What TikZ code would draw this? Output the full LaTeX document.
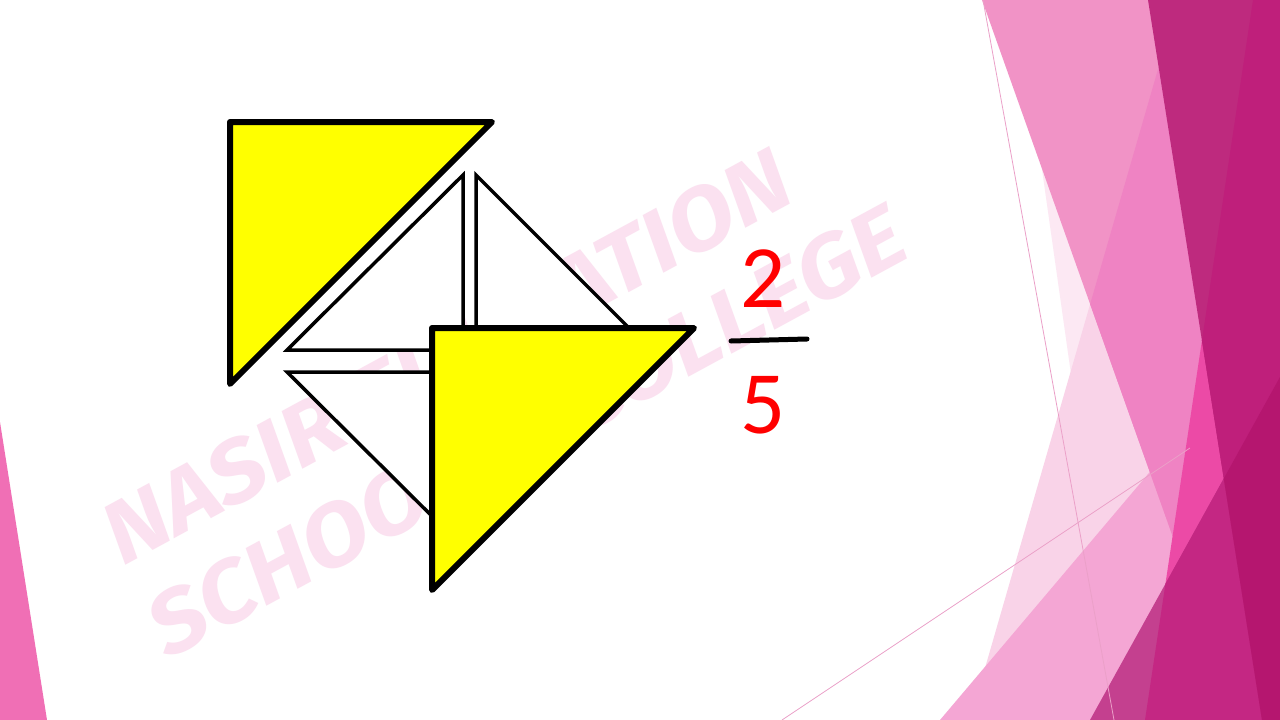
\documentclass[tikz,border=0pt]{standalone}
\usepackage{fontspec}
\usepackage{graphicx}
\newfontfamily\digitfont{Carlito}
\newfontfamily\wmfont{Fira Sans}
\definecolor{wmpink}{RGB}{251,225,240}
\definecolor{leftpink}{RGB}{240,111,181}
\definecolor{bandpink}{HTML}{FCE8F3}
\definecolor{lightpink}{HTML}{F9D3E8}
\definecolor{cpink}{HTML}{F4A6D4}
\definecolor{apink}{HTML}{F193C6}
\definecolor{bpink}{HTML}{EF83C3}
\definecolor{hotpink}{HTML}{EC4AA6}
\definecolor{darka}{HTML}{C4408F}
\definecolor{darkb}{HTML}{C42783}
\definecolor{darkc}{HTML}{BE2A7E}
\definecolor{darkd}{HTML}{BF1F7B}
\definecolor{darke}{HTML}{B5166F}
\definecolor{thinpink}{HTML}{EBA0C8}
\definecolor{triyellow}{HTML}{FFFF00}
\definecolor{fracred}{HTML}{FF0000}
\begin{document}
\begin{tikzpicture}[x=1pt,y=-1pt,
  yellowtri/.style={fill=triyellow,draw=black,line width=6pt,line join=round},
  whitetri/.style={fill=white,draw=black,line width=3.5pt,line join=miter},
  thinline/.style={draw=thinpink,line width=0.8pt},
  wm/.style={text=wmpink,rotate=28.5,anchor=base west,inner sep=0pt},
  digit/.style={text=fracred,font=\digitfont\fontsize{89}{89}\selectfont,inner sep=0pt},
  fracbar/.style={draw=black,line width=5pt,line cap=round}]
\useasboundingbox (0,0) rectangle (1280,720);
\fill[white] (0,0) rectangle (1280,720);
% ---- background facets ----
\fill[leftpink] (0,422) -- (47,720) -- (0,720) -- cycle;
\fill[bandpink] (1018,0) -- (1280,0) -- (1280,720) -- (1120,720) -- cycle;
\fill[lightpink] (1178,0) -- (1280,0) -- (1280,720) -- (970,720) -- cycle;
\fill[cpink] (940,720) -- (1280,318) -- (1280,720) -- cycle;
\fill[apink] (982,0) -- (1280,0) -- (1280,720) -- (1238,720) -- cycle;
\begin{scope}
  \clip (982,0) -- (1280,0) -- (1280,720) -- (1238,720) -- cycle;
  \fill[bpink] (1178,0) -- (1280,0) -- (1280,720) -- (970,720) -- cycle;
\end{scope}
\fill[hotpink] (1253,0) -- (1280,0) -- (1280,720) -- (1145,720) -- cycle;
\fill[darka] (1090,720) -- (1280,377) -- (1280,720) -- cycle;
\begin{scope}
  \clip (1090,720) -- (1280,377) -- (1280,720) -- cycle;
  \fill[darkb] (1253,0) -- (1280,0) -- (1280,720) -- (1145,720) -- cycle;
\end{scope}
\fill[darkc] (1148,0) -- (1280,0) -- (1280,720) -- (1262,720) -- cycle;
\begin{scope}
  \clip (1148,0) -- (1280,0) -- (1280,720) -- (1262,720) -- cycle;
  \fill[darkd] (1253,0) -- (1280,0) -- (1280,720) -- (1145,720) -- cycle;
  \fill[darke] (1090,720) -- (1280,377) -- (1280,720) -- cycle;
\end{scope}
\coordinate (t1a) at (983,0);
\coordinate (t1b) at (1114,720);
\coordinate (t2a) at (782,720);
\coordinate (t2b) at (1190,448);
\draw[thinline] (t1a) -- (t1b);
\draw[thinline] (t2a) -- (t2b);
% ---- watermark ----
\node[wm] (wm1) at (123,567) {\resizebox{769pt}{62pt}{\wmfont\bfseries\itshape NASIR EDUCATION}};
\node[wm] (wm2) at (168,660) {\resizebox{848pt}{62pt}{\wmfont\bfseries\itshape SCHOOL \& COLLEGE}};
% ---- white triangles ----
\coordinate (W1a) at (463,175); \coordinate (W1b) at (463,350); \coordinate (W1c) at (287,350);
\coordinate (W2a) at (476,175); \coordinate (W2b) at (476,350); \coordinate (W2c) at (651,350);
\coordinate (W3a) at (287,372); \coordinate (W3b) at (463,372); \coordinate (W3c) at (463,547);
\draw[whitetri] (W1a) -- (W1b) -- (W1c) -- cycle;
\draw[whitetri] (W2a) -- (W2b) -- (W2c) -- cycle;
\draw[whitetri] (W3a) -- (W3b) -- (W3c) -- cycle;
% ---- yellow triangles ----
\coordinate (Y1a) at (230,122); \coordinate (Y1b) at (492,122); \coordinate (Y1c) at (230,384);
\coordinate (Y2a) at (432,328); \coordinate (Y2b) at (694,328); \coordinate (Y2c) at (432,590);
\draw[yellowtri] (Y1a) -- (Y1b) -- (Y1c) -- cycle;
\draw[yellowtri] (Y2a) -- (Y2b) -- (Y2c) -- cycle;
% ---- fraction ----
\node[digit] (num) at (763.5,278.5) {2};
\node[digit] (den) at (763.5,405) {5};
\coordinate (barL) at (731,341);
\coordinate (barR) at (807,339);
\draw[fracbar] (barL) -- (barR);
\end{tikzpicture}
\end{document}
